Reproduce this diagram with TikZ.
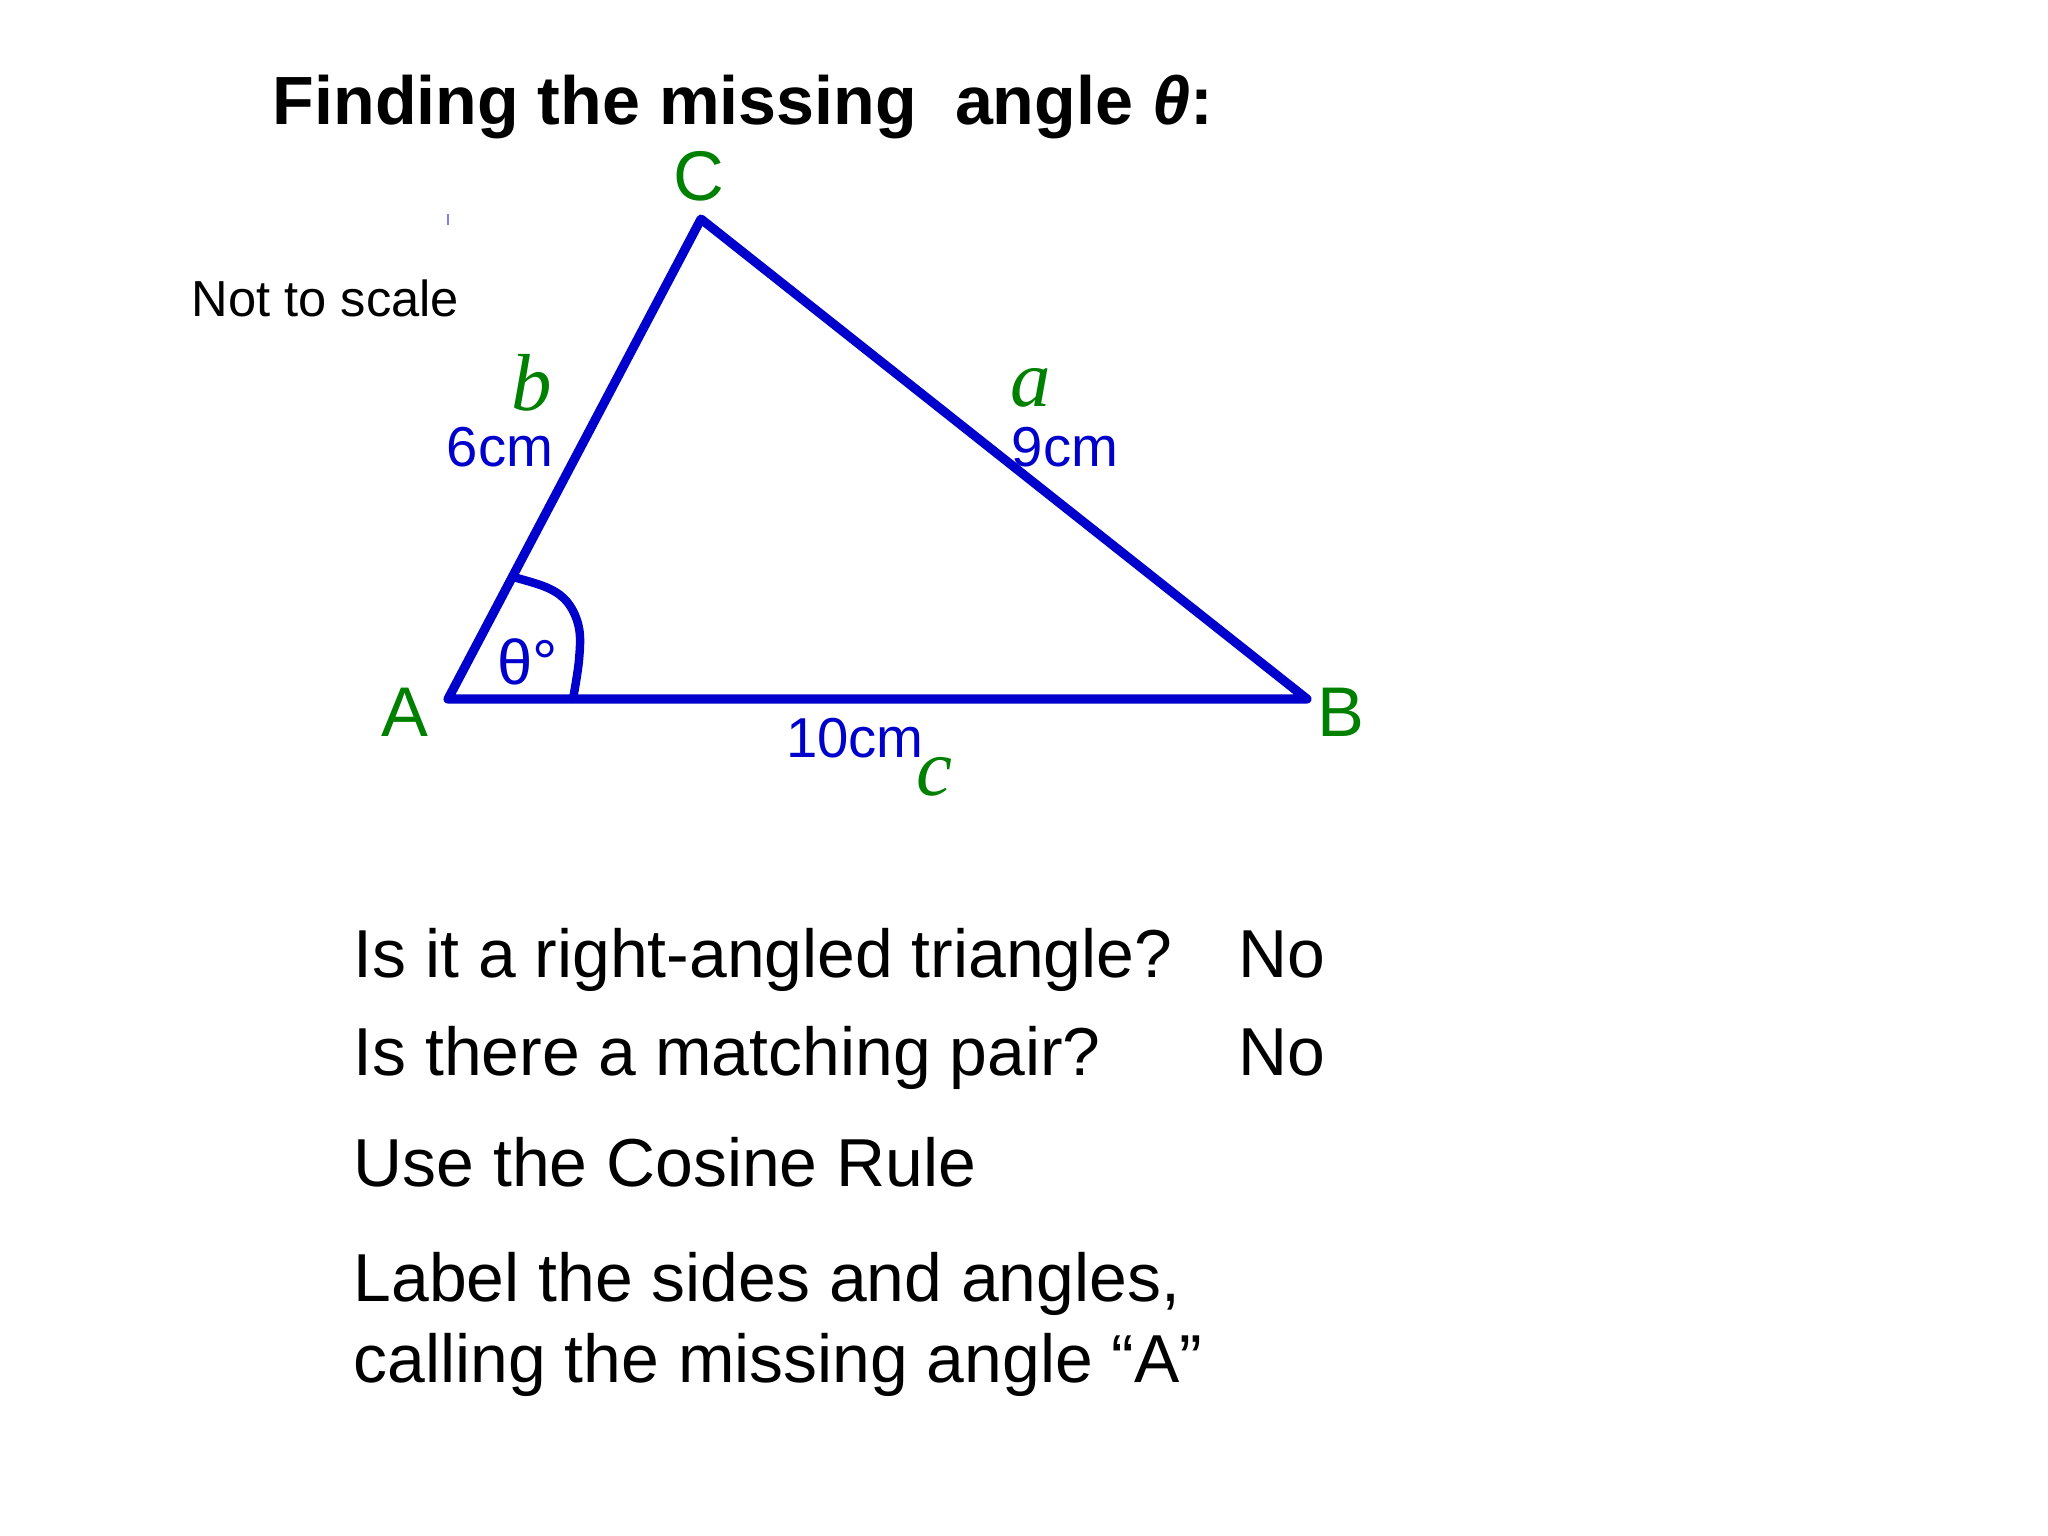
\documentclass[tikz,border=0pt]{standalone}
\usepackage{fontspec}
\setmainfont{Liberation Sans}
\newfontfamily\serifit{Liberation Serif}
\definecolor{lineblue}{RGB}{0,0,204}
\definecolor{labgreen}{RGB}{0,128,0}
\begin{document}
\begin{tikzpicture}[x=0.01cm,y=-0.01cm,
  side/.style={draw=lineblue,line width=2.6pt,line join=round,line cap=round},
  vlab/.style={text=labgreen,inner sep=0pt,font=\fontsize{20}{24}\selectfont},
  mlab/.style={text=lineblue,inner sep=0pt,font=\fontsize{16}{19}\selectfont},
  ilab/.style={text=labgreen,inner sep=0pt,font=\fontsize{23}{27}\selectfont\serifit\itshape},
  body/.style={anchor=base west,inner sep=0pt,font=\fontsize{19.3}{23}\selectfont}]
\useasboundingbox (0,0) rectangle (2048,1536);
\fill[white] (0,0) rectangle (2048,1536);
% title
\node[anchor=base west,inner sep=0pt,font=\fontsize{19.4}{23}\selectfont\bfseries] (title) at (272,124) {Finding the missing\ \ angle \textit{θ}:};
\node[anchor=base west,inner sep=0pt,font=\fontsize{14.4}{17}\selectfont] (nts) at (191,316) {Not to scale};
\draw[draw=lineblue!50,line width=0.5pt] (448,214) -- (448,225);
% triangle
\coordinate (A) at (448,699);
\coordinate (B) at (1307,699);
\coordinate (C) at (701,219);
\draw[side] (A) -- (B) -- (C) -- cycle;
\draw[side,line width=2.4pt] plot[smooth,tension=0.6] coordinates {(513,577) (548,588) (568,603) (579,628) (579,660) (573,699)};
% labels
\node[vlab] (lC) at (699,176) {C};
\node[vlab] (lA) at (405,712) {A};
\node[vlab] (lB) at (1341,712) {B};
\node[mlab] (s6) at (500,447) {6cm};
\node[mlab] (s9) at (1065,447) {9cm};
\node[mlab] (s10) at (855,738) {10cm};
\node[ilab] (lb) at (532,383) {b};
\node[ilab] (la) at (1031,388) {a};
\node[ilab] (lc) at (934,777) {c};
\node[text=lineblue,inner sep=0pt,font=\fontsize{18}{22}\selectfont] (th) at (528,662) {θ°};
% questions
\node[body] (q1) at (353,977) {Is it a right-angled triangle?};
\node[body] (n1) at (1238,977) {No};
\node[body] (q2) at (353,1075) {Is there a matching pair?};
\node[body] (n2) at (1238,1075) {No};
\node[body] (q3) at (353,1186) {Use the Cosine Rule};
\node[body] (q4) at (353,1301) {Label the sides and angles,};
\node[body] (q5) at (353,1382) {calling the missing angle “A”};
\end{tikzpicture}
\end{document}
